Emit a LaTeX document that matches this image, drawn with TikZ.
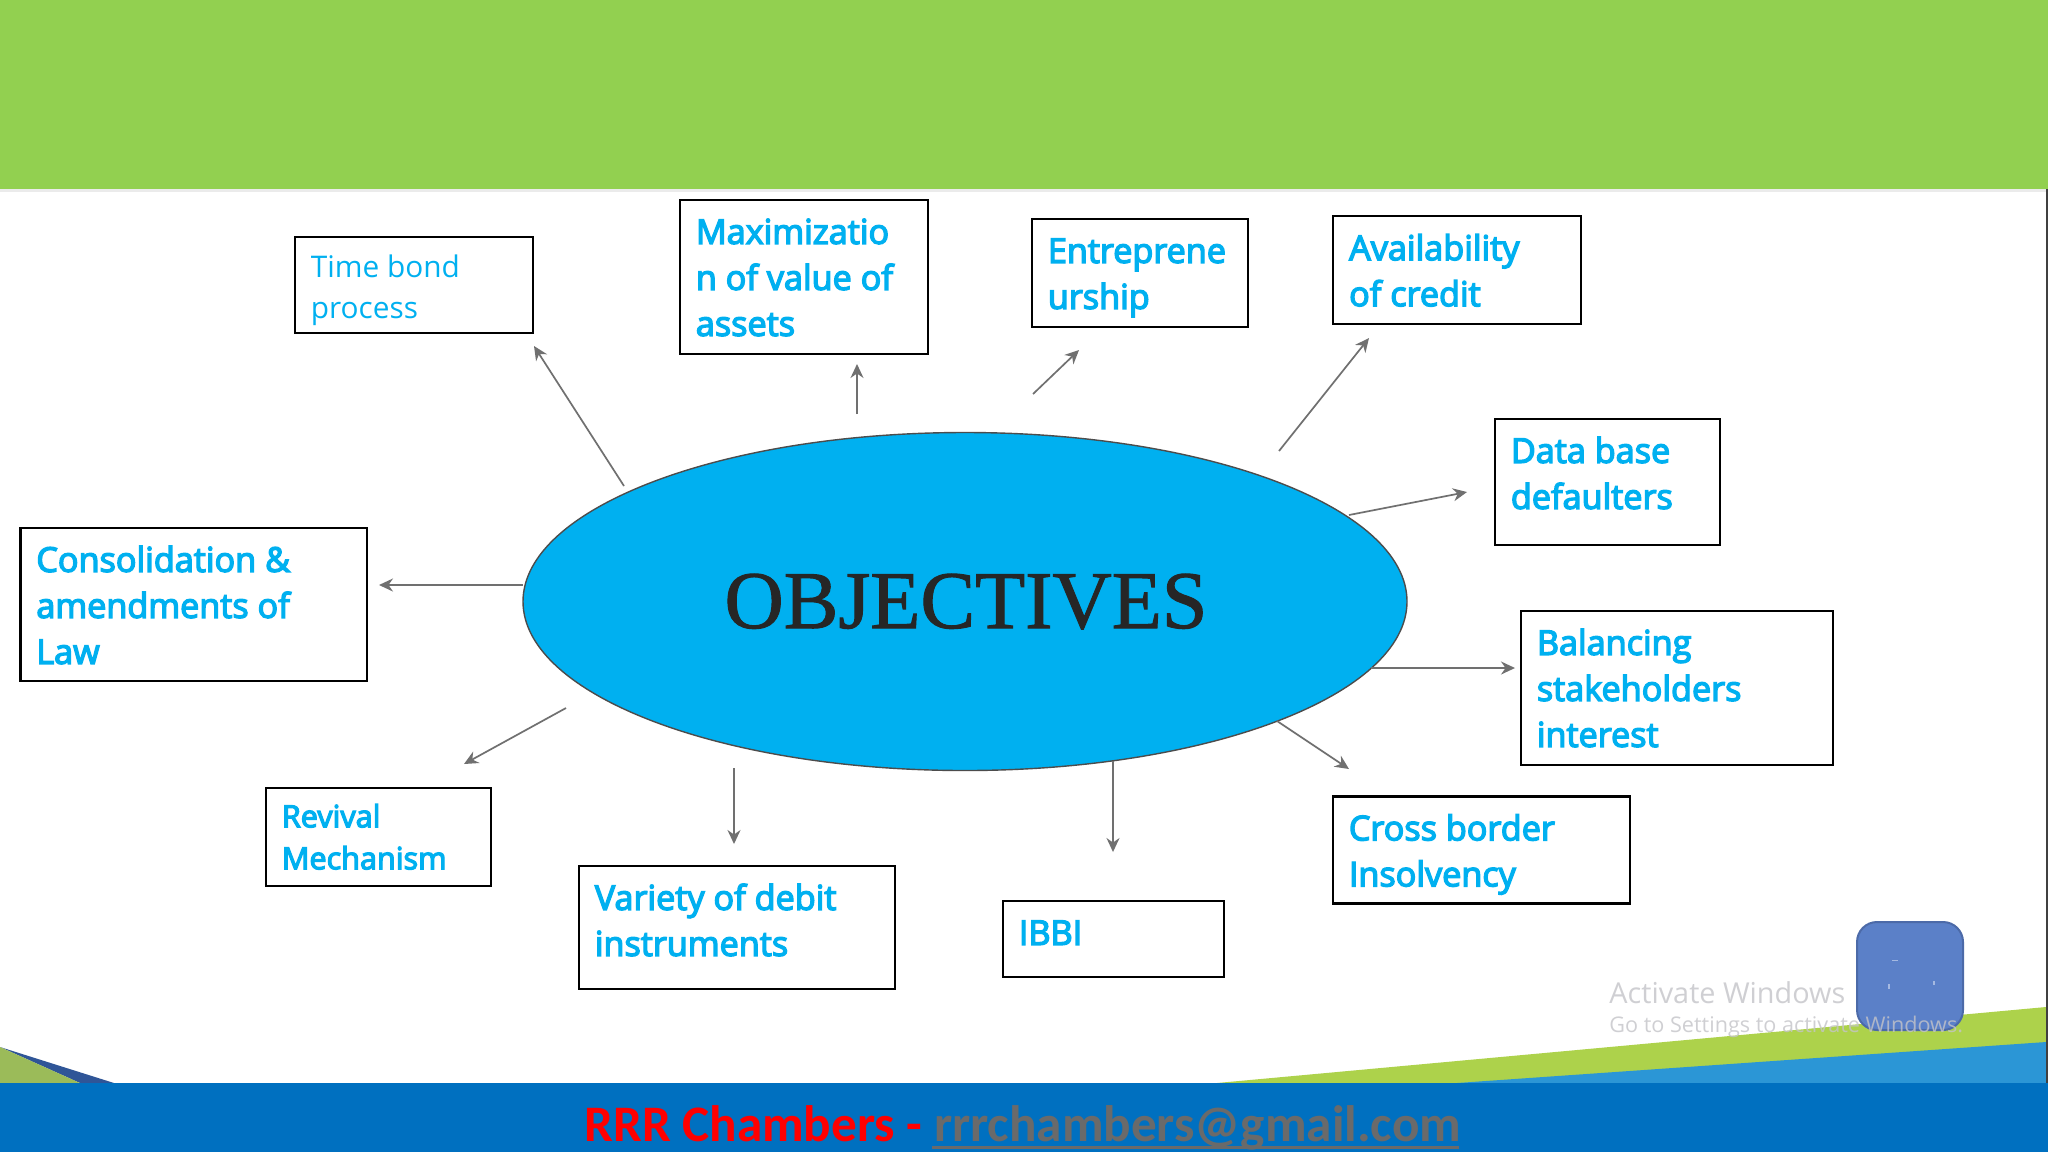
\documentclass[tikz,border=0pt]{standalone}
\usepackage{fontspec}
\usetikzlibrary{shapes.geometric,arrows.meta}
\setmainfont{Open Sans}
\newfontfamily\semibf{Open Sans}[FakeBold=4]
\newfontfamily\footf{Carlito}
\newfontfamily\titlef{Liberation Serif}[FakeBold=1.2]
\definecolor{topgreen}{HTML}{92D050}
\definecolor{barblue}{HTML}{0070C0}
\definecolor{skyb}{HTML}{00B0F0}
\definecolor{bandg}{HTML}{ADD24B}
\definecolor{bandb}{HTML}{2B96D6}
\definecolor{cornerg}{HTML}{9BBB59}
\definecolor{cornerb}{HTML}{2F5597}
\definecolor{arrowg}{HTML}{707070}
\definecolor{wmg}{HTML}{C4C4C8}
\definecolor{footgray}{HTML}{6A6A6A}
\definecolor{squareb}{HTML}{5B80C8}
\definecolor{squared}{HTML}{4C6AA8}
\tikzset{
  objbox/.style={draw=black,line width=1.25pt,fill=white,inner sep=0pt,anchor=north west,text=skyb,xshift=-0.7pt,yshift=0.7pt},
  objarrow/.style={draw=arrowg,line width=0.85pt,-{Stealth[length=7pt,width=6.5pt]}},
  wmtext/.style={anchor=west,inner sep=0pt,text=wmg,text opacity=0.8},
}
\newcommand\mainf{\semibf\fontsize{17.1}{23}\selectfont}
\newcommand\revf{\semibf\fontsize{15.3}{21}\selectfont}
\newcommand\timef{\fontsize{14.9}{20.5}\selectfont}
% [font]{name}{x}{y}{w}{h}{first baseline}{text}
\newcommand\tb[8][\mainf]{\node[objbox] (#2) at (#3,#4) {\parbox[t][#6][t]{#5}{\raggedright\leftskip=8pt\relax #1\rule{0pt}{#7}#8\par}};}
\begin{document}
\begin{tikzpicture}[x=0.5pt,y=-0.5pt]
\useasboundingbox (0,0) rectangle (2048,1152);
\fill[white] (0,0) rectangle (2048,1152);
% band and corner
\fill[bandg] (1217,1083) -- (2046,1007) -- (2046,1083) -- cycle;
\fill[bandb] (1457,1083) -- (2046,1042) -- (2046,1083) -- cycle;
\fill[cornerb] (0,1047) -- (114,1083) -- (80,1083) -- cycle;
\fill[cornerg] (0,1047) -- (80,1083) -- (0,1083) -- cycle;
% bars
\fill[topgreen] (0,0) rectangle (2048,189);
\fill[black!8] (0,189) rectangle (2048,192);
\fill[barblue] (0,1083) rectangle (2048,1152);
\fill[black!75] (2046,189) rectangle (2048,1083);
% ellipse
\node[ellipse,draw=black!70,line width=0.7pt,fill=skyb,minimum width=442pt,minimum height=169pt,inner sep=0pt,text=black!85] (obj) at (965,601.5) {\hspace{1pt}\titlef\fontsize{41}{41}\selectfont OBJECTIVES};
% boxes
\tb[\timef]{tbp}{295}{237.3}{119pt}{48pt}{20pt}{Time bond\\process}
\tb{maxv}{680}{200}{124pt}{77pt}{22pt}{Maximizatio\\n of value of\\assets}
\tb{entr}{1032}{219}{108pt}{54pt}{22pt}{Entreprene\\urship}
\tb{avail}{1333.3}{216.3}{124pt}{54pt}{22pt}{Availability\\of credit}
\tb{datab}{1495}{419}{112.5pt}{63pt}{22pt}{Data base\\defaulters}
\tb{balan}{1521}{611}{156pt}{77pt}{22pt}{Balancing\\stakeholders\\interest}
\tb{cross}{1333}{796.5}{148.5pt}{53.5pt}{22pt}{Cross border\\Insolvency}
\tb{ibbi}{1003}{901}{110.5pt}{38pt}{22pt}{IBBI}
\tb{varie}{579}{866}{158pt}{61.5pt}{22pt}{Variety of debit\\instruments}
\tb[\revf]{reviv}{266}{788}{112.5pt}{49pt}{19.7pt}{Revival\\Mechanism}
\tb{conso}{20.5}{528}{173.3pt}{76.5pt}{22pt}{Consolidation \&\\amendments of\\Law}
% arrows
\coordinate (s1) at (624,486);  \coordinate (e1) at (534,346);
\coordinate (s2) at (857,414);  \coordinate (e2) at (857,364);
\coordinate (s3) at (1033,394); \coordinate (e3) at (1079,350);
\coordinate (s4) at (1279,451); \coordinate (e4) at (1369,338);
\coordinate (s5) at (1349,515); \coordinate (e5) at (1467,492);
\coordinate (s6) at (1371,668); \coordinate (e6) at (1515,668);
\coordinate (s7) at (1277,721); \coordinate (e7) at (1349,769);
\coordinate (s8) at (1113,761); \coordinate (e8) at (1113,852);
\coordinate (s9) at (734,768);  \coordinate (e9) at (734,844);
\coordinate (s10) at (566,708); \coordinate (e10) at (464,764);
\coordinate (s11) at (523,585); \coordinate (e11) at (379,585);
\foreach \k in {1,...,11} \draw[objarrow] (s\k) -- (e\k);
% footer
\node[anchor=west,inner sep=0pt,font=\footf\bfseries\fontsize{25.6}{25.6}\selectfont] (foot) at (584,1128) {\textcolor{red}{RRR Chambers - }\textcolor{footgray}{rrrchambers@gmail.com}};
\fill[footgray] (932,1146) rectangle (1459,1149);
% overlay
\node[rounded corners=10pt,draw=squared,line width=1pt,fill=squareb,minimum width=53pt,minimum height=54pt,inner sep=0pt] (sq) at (1910,976) {};
\fill[white!45!squareb] (1892,960) rectangle (1898,961);
\fill[white!45!squareb] (1888,984) rectangle (1890,989);
\fill[white!45!squareb] (1933,981) rectangle (1935,985);
\node[wmtext,font=\fontsize{14.4}{14.4}\selectfont] (wm1) at (1609,993) {Activate Windows};
\node[wmtext,font=\fontsize{10.8}{10.8}\selectfont] (wm2) at (1609,1027) {Go to Settings to activate Windows.};
\end{tikzpicture}
\end{document}
